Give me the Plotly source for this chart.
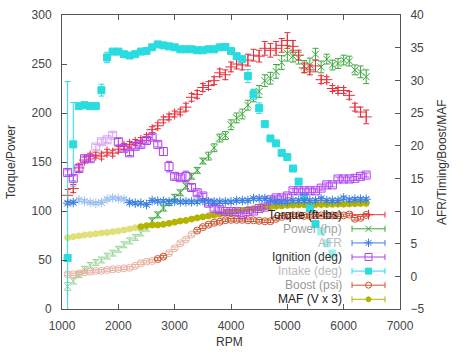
import plotly.graph_objects as go

# ---------------- data ----------------
rpm = list(range(1100, 6500, 100))  # 1100 .. 6400

torque = [116, 123, 144, 152, 156, 157, 156, 160, 159, 163,
          166, 168, 170, 172, 175, 183, 187, 193, 196, 199,
          201, 206, 216, 219, 226, 228, 233, 241, 239, 247,
          250, 249, 254, 259, 258, 266, 264, 266, 269, 274,
          268, 259, 246, 244, 248, 234, 234, 225, 223, 223,
          218, 206, 201, 196]
torque_err = [6, 4, 4, 3, 3, 3, 3, 3, 3, 3,
              3, 3, 3, 3, 3, 3, 3, 3, 3, 3,
              3, 4, 4, 4, 4, 4, 4, 4, 5, 5,
              5, 5, 6, 6, 6, 7, 7, 7, 7, 8,
              6, 5, 5, 5, 6, 4, 3, 3, 3, 3,
              4, 4, 5, 7]

power = [23, 28.5, 35, 40.5, 44.5, 47.5, 50, 54, 57, 61,
         65.5, 69.5, 73, 77.5, 82.5, 90, 96, 103, 108.5, 114,
         118.5, 125.5, 135.5, 141.5, 151, 156, 164.5, 174.5, 177, 188,
         195, 199, 208, 217.5, 222, 233, 235.5, 242.5, 251.5, 261,
         258, 256, 247.5, 249, 260, 247, 255, 249, 250.5, 254,
         253, 244, 242, 237]
power_err = [4, 3, 3, 3, 3, 3, 3, 3, 3, 3,
             3, 3, 3, 3, 3, 3, 3, 3, 3, 3,
             3, 3, 3, 3, 3, 4, 4, 4, 4, 5,
             5, 5, 5, 6, 6, 6, 6, 7, 7, 8,
             6, 6, 6, 7, 6, 6, 5, 5, 5, 5,
             5, 5, 6, 7]

afr = [11.2, 11.3, 11.7, 11.5, 11.3, 11.2, 11.3, 11.8, 12.0, 11.9,
       11.8, 11.3, 11.2, 11.2, 11.0, 11.6, 11.5, 11.5, 11.4, 11.5,
       11.4, 11.4, 11.4, 11.4, 11.6, 11.4, 11.4, 11.4, 11.4, 11.4,
       11.6, 11.6, 11.6, 11.9, 11.9, 11.9, 11.6, 11.4, 11.4, 11.4,
       11.6, 11.6, 11.6, 11.6, 11.6, 11.9, 11.6, 11.6, 11.6, 12.0,
       11.7, 11.8, 11.8, 11.8]
afr_err = [0.25] * 54

ignition = [15.9, 15.0, 16.5, 18.0, 18.0, 19.8, 20.6, 20.9, 21.6, 20.6,
            19.6, 18.9, 19.9, 20.2, 20.8, 21.3, 20.2, 19.1, 16.8, 15.3,
            15.1, 15.3, 13.6, 12.8, 12.3, 11.2, 10.4, 10.2, 9.9, 9.9,
            9.9, 9.4, 9.9, 10.0, 10.4, 10.6, 11.7, 12.0, 12.0, 12.3,
            13.1, 13.1, 13.1, 13.1, 13.1, 13.5, 14.0, 14.0, 14.9, 14.9,
            14.9, 15.0, 15.3, 15.5]
ignition_err = [0.4, 0.4, 0.4, 0.4, 0.4, 0.4, 0.4, 0.4, 0.4, 0.5,
                0.4, 0.4, 0.4, 0.4, 0.4, 0.4, 0.4, 0.6, 0.8, 0.4,
                0.4, 0.8, 0.5, 0.4, 0.4, 0.4, 0.4, 0.4, 0.3, 0.3,
                0.3, 0.3, 0.3, 0.3, 0.3, 0.3, 0.3, 0.3, 0.3, 0.3,
                0.3, 0.3, 0.3, 0.3, 0.3, 0.3, 0.3, 0.3, 0.3, 0.3,
                0.3, 0.3, 0.3, 0.3]

intake_rpm = list(range(1100, 5900, 100))  # 1100 .. 5800
intake = [2.8, 20.2, 26.05, 26.2, 26.05, 26.05, 28.5, 33.5, 34.4, 34.4,
          34.0, 33.8, 34.0, 34.4, 34.5, 35.05, 35.5, 35.35, 35.2, 35.05,
          34.75, 34.75, 34.75, 34.6, 34.6, 34.75, 34.75, 35.05, 35.1, 34.5,
          33.7, 33.25, 30.65, 27.85, 25.75, 23.3, 21.1, 20.35, 18.9, 18.25,
          16.5, 14.5, 12.2, 10.4, 8.0, 6.9, 5.05, 3.5]
intake_err = [27, 6.4, 0.3, 0.3, 0.3, 0.3, 0.9, 0.8, 0.3, 0.3,
              0.3, 0.3, 0.3, 0.3, 0.3, 0.3, 0.3, 0.3, 0.3, 0.3,
              0.3, 0.3, 0.3, 0.3, 0.3, 0.3, 0.3, 0.3, 0.3, 0.3,
              0.3, 0.3, 1.0, 0.8, 0.8, 0.3, 0.3, 0.3, 0.3, 0.3,
              0.3, 0.3, 0.3, 0.3, 0.3, 0.3, 0.3, 0.3]

boost = [0.31, 0.31, 0.46, 0.61, 0.7, 0.82, 0.85, 0.97, 1.08, 1.12,
         1.23, 1.3, 1.6, 1.99, 2.25, 2.35, 2.65, 3.01, 3.55, 4.3,
         5.05, 5.65, 6.4, 7.0, 7.53, 7.9, 8.2, 8.35, 8.58, 8.65,
         8.65, 8.65, 8.58, 8.58, 8.5, 8.43, 8.43, 8.8, 9.1, 9.25,
         9.33, 9.33, 9.25, 9.25, 9.33, 9.33, 9.33, 9.33, 9.33, 9.33,
         9.45, 8.8, 8.95, 9.4]
boost_err = [0.2] * 54

maf = [5.92, 6.07, 6.18, 6.33, 6.4, 6.52, 6.63, 6.7, 6.84, 6.94,
       7.09, 7.24, 7.45, 7.6, 7.75, 7.86, 7.86, 7.96, 8.11, 8.29,
       8.46, 8.56, 8.76, 8.95, 9.1, 9.25, 9.36, 9.5, 9.7, 9.85,
       10.0, 10.1, 10.26, 10.36, 10.45, 10.6, 10.6, 10.72, 10.78, 10.87,
       10.9, 10.93, 10.96, 10.98, 10.98, 10.99, 11.0, 11.02, 11.05, 11.05,
       11.08, 11.11, 11.14, 11.17]
maf_err = [0.15] * 54

x_ticks = [1000, 2000, 3000, 4000, 5000, 6000, 7000]
y_ticks = [0, 50, 100, 150, 200, 250, 300]
y2_ticks = [-5, 0, 5, 10, 15, 20, 25, 30, 35, 40]

legend_labels = ["Torque (ft-lbs)", "Power (hp)", "AFR", "Ignition (deg)",
                 "Intake (deg)", "Boost (psi)", "MAF (V x 3)"]

# ---------------- styles ----------------
FONT = "Liberation Sans, Arial, sans-serif"

legend_text_colors = ["#222222", "#a0a0a0", "#bbbbbb", "#333333",
                      "#bbbbbb", "#999999", "#222222"]

# color, washed-out color (the reference shows some runs of points paler),
# symbol, size, rpm ranges drawn pale
series_styles = [
    dict(color="#e8303a", pale="#f09aa0", symbol="cross-thin", size=8, pale_ranges=[]),
    dict(color="#3aa83a", pale="#9ad69a", symbol="x-thin", size=7, pale_ranges=[(1100, 2500)]),
    dict(color="#3a80e0", pale="#9cc0f0", symbol="asterisk", size=8, pale_ranges=[(1300, 2100)]),
    dict(color="#b040f0", pale="#d9a2f6", symbol="square-open", size=8, pale_ranges=[(1600, 1900)]),
    dict(color="#28dce0", pale="#9cf0f0", symbol="square", size=7, pale_ranges=[(5600, 5800)]),
    dict(color="#cc5530", pale="#e8b0a0", symbol="circle-open", size=7,
         pale_ranges=[(1100, 2600), (2900, 3300)]),
    dict(color="#b4b400", pale="#e0e07a", symbol="circle", size=6, pale_ranges=[(1100, 2300)]),
]

fig = go.Figure()


def add_series(x, y, err, st, yaxis):
    def is_pale(r):
        return any(lo <= r <= hi for lo, hi in st["pale_ranges"])

    for pale in (True, False):
        idx = [i for i, r in enumerate(x) if is_pale(r) == pale]
        if not idx:
            continue
        col = st["pale"] if pale else st["color"]
        fig.add_trace(go.Scatter(
            x=[x[i] for i in idx], y=[y[i] for i in idx],
            mode="markers", yaxis=yaxis, showlegend=False,
            error_y=dict(type="data", array=[err[i] for i in idx], color=col,
                         thickness=1, width=3, visible=True),
            marker=dict(symbol=st["symbol"], size=st["size"], color=col,
                        line=dict(color=col, width=1)),
            hoverinfo="skip",
        ))


add_series(rpm, maf, maf_err, series_styles[6], "y2")
add_series(rpm, boost, boost_err, series_styles[5], "y2")
add_series(intake_rpm, intake, intake_err, series_styles[4], "y2")
add_series(rpm, ignition, ignition_err, series_styles[3], "y2")
add_series(rpm, afr, afr_err, series_styles[2], "y2")
add_series(rpm, power, power_err, series_styles[1], "y")
add_series(rpm, torque, torque_err, series_styles[0], "y")

# ---------------- manual gnuplot-style key ----------------
PX_L, PX_R, PX_T, PX_B = 62, 400, 15, 309
W, H = PX_R - PX_L, PX_B - PX_T


def px_x(p):
    return (p - PX_L) / W


def px_y(p):
    return (PX_B - p) / H


annotations = []
shapes = []
for i, (lab, tc, st) in enumerate(zip(legend_labels, legend_text_colors, series_styles)):
    py = 214.7 + 14.1 * i
    annotations.append(dict(x=px_x(344), y=px_y(py), xref="paper", yref="paper",
                            text=lab, showarrow=False, xanchor="right", yanchor="middle",
                            font=dict(family=FONT, size=12, color=tc)))
    x0, x1 = px_x(352), px_x(385)
    yy = px_y(py)
    dy = 3 / H
    shapes.append(dict(type="line", xref="paper", yref="paper", x0=x0, x1=x1, y0=yy, y1=yy,
                       line=dict(color=st["color"], width=1)))
    for xx in (x0, x1):
        shapes.append(dict(type="line", xref="paper", yref="paper", x0=xx, x1=xx,
                           y0=yy - dy, y1=yy + dy, line=dict(color=st["color"], width=1)))
    fig.add_trace(go.Scatter(
        x=[(x0 + x1) / 2], y=[yy], mode="markers", xaxis="x2", yaxis="y3",
        showlegend=False, hoverinfo="skip",
        marker=dict(symbol=st["symbol"], size=st["size"] - 1, color=st["color"],
                    line=dict(color=st["color"], width=1)),
    ))

# axis titles
annotations.append(dict(x=px_x(11), y=0.5, xref="paper", yref="paper", text="Torque/Power",
                        textangle=-90, showarrow=False, xanchor="center", yanchor="middle",
                        font=dict(family=FONT, size=12, color="#333333")))
annotations.append(dict(x=px_x(442), y=0.5, xref="paper", yref="paper",
                        text="AFR/Timing/Boost/MAF", textangle=-90, showarrow=False,
                        xanchor="center", yanchor="middle",
                        font=dict(family=FONT, size=12, color="#333333")))
annotations.append(dict(x=px_x(229), y=px_y(342), xref="paper", yref="paper", text="RPM",
                        showarrow=False, xanchor="center", yanchor="middle",
                        font=dict(family=FONT, size=12, color="#333333")))

axis_common = dict(showgrid=False, zeroline=False, showline=True, linecolor="#555555",
                   linewidth=1, ticks="inside", ticklen=5, tickcolor="#555555",
                   automargin=False,
                   tickfont=dict(family=FONT, size=12, color="#444444"))

fig.update_layout(
    width=474, height=355,
    margin=dict(l=PX_L, r=474 - PX_R, t=PX_T, b=355 - PX_B, autoexpand=False),
    paper_bgcolor="white", plot_bgcolor="white",
    showlegend=False,
    xaxis=dict(range=[1000, 7000], tickvals=x_ticks, mirror="ticks",
               ticklabelstandoff=6, **axis_common),
    yaxis=dict(range=[0, 300], tickvals=y_ticks, mirror=True,
               ticklabelstandoff=7, **axis_common),
    yaxis2=dict(range=[-5, 40], tickvals=y2_ticks, overlaying="y", side="right",
                ticklabelstandoff=7, **axis_common),
    xaxis2=dict(range=[0, 1], overlaying="x", visible=False),
    yaxis3=dict(range=[0, 1], overlaying="y", visible=False),
    annotations=annotations,
    shapes=shapes,
)

fig.write_html("out.html", config={"displayModeBar": False},
               post_script="document.body.style.margin='0px';document.body.style.overflow='hidden';")
